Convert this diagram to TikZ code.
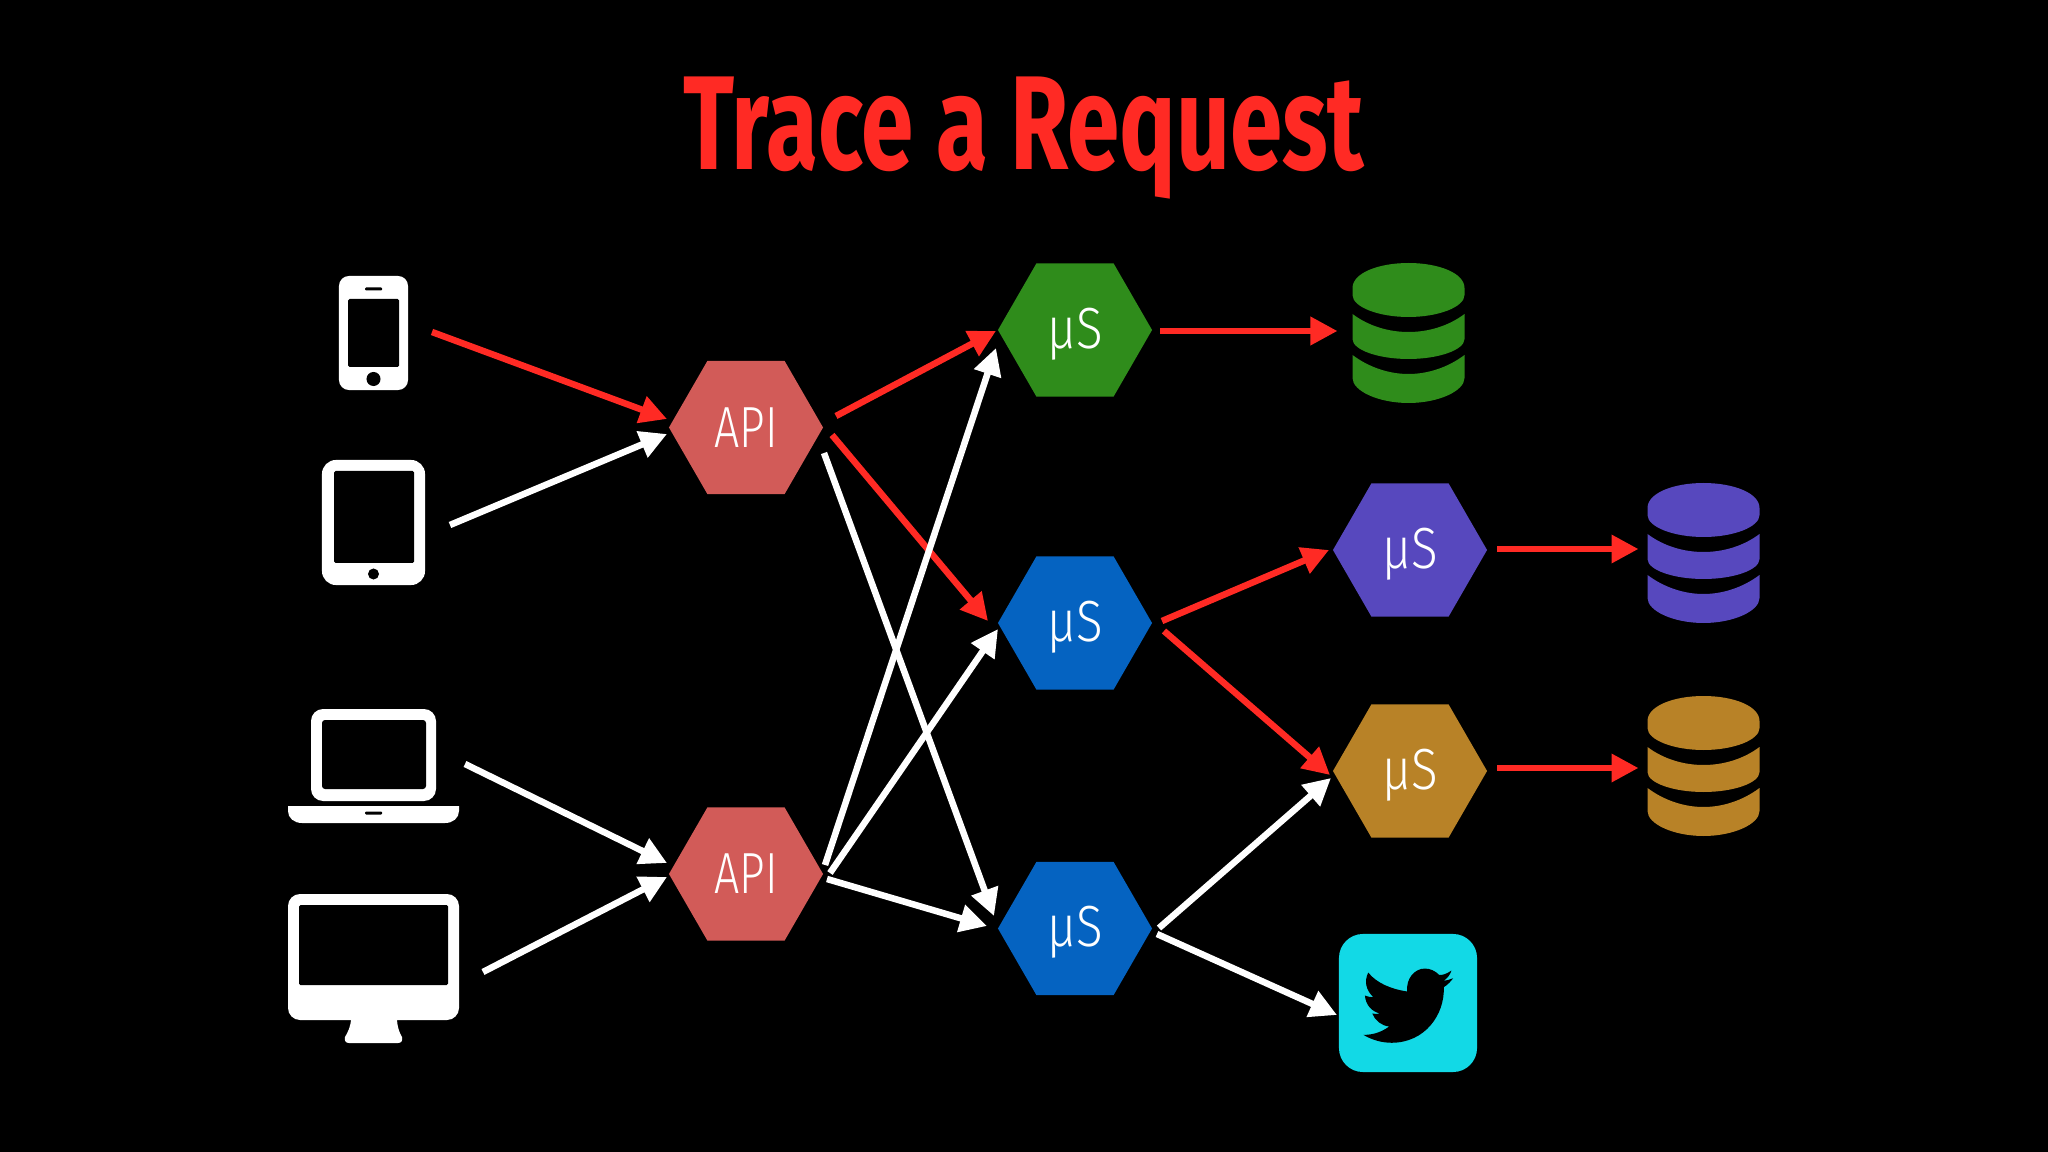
\documentclass[tikz,border=0pt]{standalone}
\usepackage{fontspec}
\usepackage{graphicx}
\usetikzlibrary{arrows.meta,calc,shapes.geometric}
\newfontfamily\titlefont{Fira Sans}[UprightFont=* Bold]
\newfontfamily\hexfont{Fira Sans Light}
\definecolor{bg}{HTML}{000000}
\definecolor{tred}{HTML}{FF2A24}
\definecolor{apired}{HTML}{D25B58}
\definecolor{msgreen}{HTML}{2F8C1B}
\definecolor{msblue}{HTML}{0563C1}
\definecolor{mspurple}{HTML}{5748BE}
\definecolor{msbrown}{HTML}{B88227}
\definecolor{twcyan}{HTML}{12D9E6}
\tikzset{
  hexnode/.style={regular polygon,regular polygon sides=6,minimum size=1.54cm,inner sep=0pt,outer sep=0pt,text=white,font=\hexfont\fontsize{16.5}{18}\selectfont},
  iconbox/.style={inner sep=0pt,outer sep=0pt,minimum width=#1},
  conn/.style={line width=0.065cm,-{Triangle[length=0.27cm,width=0.27cm]}},
  redconn/.style={conn,draw=tred,color=tred},
  whiteconn/.style={conn,draw=white,color=white},
  dbicon/.pic={
    \fill[#1] (-56,-45) .. controls (-56,-60) and (-30,-70) .. (0,-70) .. controls (30,-70) and (56,-60) .. (56,-45) -- (56,-38) .. controls (56,-26) and (30,-16) .. (0,-16) .. controls (-30,-16) and (-56,-26) .. (-56,-38) -- cycle;
    \fill[#1] (-56,-19) .. controls (-40,-7) and (-20,-1) .. (0,-1) .. controls (20,-1) and (40,-7) .. (56,-19) -- (56,6) .. controls (56,17) and (30,26) .. (0,26) .. controls (-30,26) and (-56,17) .. (-56,6) -- cycle;
    \fill[#1] (-56,22) .. controls (-40,34) and (-20,41) .. (0,41) .. controls (20,41) and (40,34) .. (56,22) -- (56,45) .. controls (56,58) and (30,70) .. (0,70) .. controls (-30,70) and (-56,58) .. (-56,45) -- cycle;
  }
}
\newcommand{\apitext}{\scalebox{0.77}[1]{API}}
\newcommand{\mstext}{\raisebox{-0.04cm}[\height][\depth]{\scalebox{0.85}[1]{µS}}}
\begin{document}
\begin{tikzpicture}[x=0.01cm,y=-0.01cm]
\fill[bg] (0,0) rectangle (2048,1152);
\useasboundingbox (0,0) rectangle (2048,1152);

% title
\node[anchor=base,text=tred,inner sep=0pt,font=\titlefont\fontsize{38}{40}\selectfont] (title) at (1024,170) {\scalebox{0.707}[1]{Trace a Request}};

% device icons
\node[iconbox=0.69cm,minimum height=1.14cm,fill=white,rounded corners=0.1cm] (phone) at (373.5,333) {};
\fill[black,rounded corners=0.015cm] (348,299) rectangle (399,367);
\fill[black,rounded corners=0.01cm] (365,287.5) rectangle (382,290.5);
\fill[black] (373.5,379) circle (0.07cm);

\node[iconbox=1.03cm,minimum height=1.25cm,fill=white,rounded corners=0.14cm] (tablet) at (373.5,522.5) {};
\fill[black,rounded corners=0.015cm] (334,471) rectangle (414,563);
\fill[black] (373.5,574) circle (0.055cm);

\node[iconbox=1.71cm,minimum height=1.14cm] (laptop) at (373.5,766) {};
\fill[white,rounded corners=0.12cm] (311,709) rectangle (436,801);
\fill[black,rounded corners=0.03cm] (322,720) rectangle (426,789);
\fill[white] (288,806) -- (459,806) -- (459,811) .. controls (459,818) and (453,823) .. (445,823) -- (302,823) .. controls (294,823) and (288,818) .. (288,811) -- cycle;
\fill[black,rounded corners=0.01cm] (365,811.5) rectangle (382,814.5);

\node[iconbox=1.71cm,minimum height=1.49cm] (desktop) at (373.5,968.5) {};
\fill[white,rounded corners=0.12cm] (288,894) rectangle (459,1020);
\fill[black,rounded corners=0.015cm] (299,905) rectangle (448,985);
\fill[white] (351,1018) -- (397,1018) .. controls (397,1026) and (399,1032) .. (402,1037) .. controls (403,1041) and (401,1043) .. (398,1043) -- (349,1043) .. controls (346,1043) and (344,1041) .. (345,1037) .. controls (348,1032) and (351,1026) .. (351,1018) -- cycle;

% hexagons
\node[hexnode,fill=apired] (api1) at (746,427.5) {\apitext};
\node[hexnode,fill=apired] (api2) at (746,874) {\apitext};
\node[hexnode,fill=msgreen] (ms1) at (1075,330) {\mstext};
\node[hexnode,fill=msblue] (ms2) at (1075,623) {\mstext};
\node[hexnode,fill=msblue] (ms3) at (1075,928.5) {\mstext};
\node[hexnode,fill=mspurple] (ms4) at (1410,550) {\mstext};
\node[hexnode,fill=msbrown] (ms5) at (1410,771) {\mstext};

% databases
\node[iconbox=1.13cm,minimum height=1.4cm] (db1) at (1408.5,333) {};
\node[iconbox=1.13cm,minimum height=1.4cm] (db2) at (1703.5,553) {};
\node[iconbox=1.13cm,minimum height=1.4cm] (db3) at (1703.5,766) {};
\pic at (db1) {dbicon=msgreen};
\pic at (db2) {dbicon=mspurple};
\pic at (db3) {dbicon=msbrown};

% twitter
\node[iconbox=1.38cm,minimum height=1.38cm,fill=twcyan,rounded corners=0.24cm] (twitter) at (1408,1003) {};
\begin{scope}[shift={(1320,900)},x=0.003333cm,y=-0.003333cm]
\fill[black] (395,212) .. controls (380,222) and (370,226) .. (358,225) .. controls (345,212) and (330,206) .. (315,206) .. controls (285,206) and (258,235) .. (262,275) .. controls (215,268) and (170,250) .. (145,218) .. controls (132,245) and (138,270) .. (160,292) .. controls (150,292) and (142,290) .. (135,287) .. controls (137,315) and (155,335) .. (180,341) .. controls (172,343) and (165,343) .. (157,341) .. controls (165,362) and (185,378) .. (208,380) .. controls (185,397) and (158,406) .. (130,405) .. controls (155,420) and (185,429) .. (215,429) .. controls (315,429) and (375,345) .. (372,262) .. controls (383,255) and (393,245) .. (400,235) .. controls (390,239) and (381,242) .. (371,243) .. controls (382,236) and (391,225) .. (395,212) -- cycle;
\end{scope}

% red connectors
\draw[redconn] ($(phone)+(58.5,-1)$) -- ($(api1)+(-79,-8.5)$);
\draw[redconn] ($(api1)+(90,-11.5)$) -- ($(ms1)+(-79,1)$);
\draw[redconn] ($(api1)+(86,7.5)$) -- ($(ms2)+(-87,-2)$);
\draw[redconn] ($(ms1)+(85,1)$) -- ($(db1)+(-71,-2)$);
\draw[redconn] ($(ms2)+(87,-2)$) -- ($(ms4)+(-81,0)$);
\draw[redconn] ($(ms2)+(89,8)$) -- ($(ms5)+(-80,4)$);
\draw[redconn] ($(ms4)+(87,-1)$) -- ($(db2)+(-65,-4)$);
\draw[redconn] ($(ms5)+(87,-3)$) -- ($(db3)+(-65,2)$);

% white connectors
\draw[whiteconn] ($(tablet)+(76.5,2.5)$) -- ($(api1)+(-79,6.5)$);
\draw[whiteconn] ($(laptop)+(91.5,-2)$) -- ($(api2)+(-79,-11)$);
\draw[whiteconn] ($(desktop)+(109.5,3.5)$) -- ($(api2)+(-79,3)$);
\draw[whiteconn] ($(api2)+(79,-9)$) -- ($(ms1)+(-79,18)$);
\draw[whiteconn] ($(api2)+(84,-1)$) -- ($(ms2)+(-77,6)$);
\draw[whiteconn] ($(api1)+(78,25.5)$) -- ($(ms3)+(-81,-12.5)$);
\draw[whiteconn] ($(api2)+(81,5)$) -- ($(ms3)+(-88,-2.5)$);
\draw[whiteconn] ($(ms3)+(84,-0.5)$) -- ($(ms5)+(-79,7)$);
\draw[whiteconn] ($(ms3)+(82,5.5)$) -- ($(twitter)+(-71,12)$);
\end{tikzpicture}
\end{document}
